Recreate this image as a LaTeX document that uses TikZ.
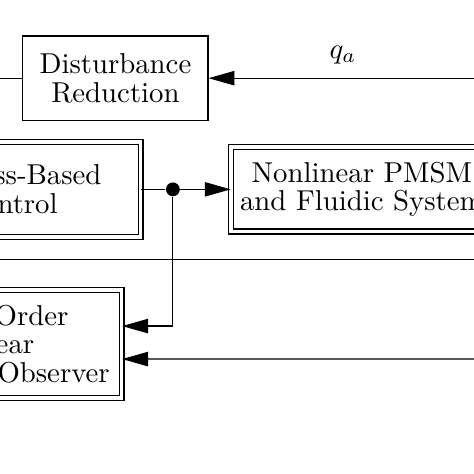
\documentclass[tikz,border=0pt]{standalone}
\usepackage{tikz}
\usetikzlibrary{arrows.meta}
\usetikzlibrary{positioning}

\begin{document}
\begin{tikzpicture}
	\useasboundingbox (0,0) rectangle (5.79,5.79);
	\clip (0,0) rectangle (5.79,5.79);

	\begin{scope}[every node/.style={draw, align=center, inner sep=0pt, font=\fontsize{10}{10}\selectfont}]
		\node[minimum width=2.26cm, minimum height=1.03cm] (dr) at (1.41,4.835) {Disturbance\\Reduction};
		\node[double, double distance=1.3pt, minimum width=3.19cm, minimum height=1.16cm] (pbc) at (0.122,3.477) {Lossless-Based\\Control};
		\node[double, double distance=1.3pt, minimum width=3.19cm, minimum height=1.03cm] (plant) at (4.42,3.477) {Nonlinear PMSM\\and Fluidic System};
		\node[double, double distance=1.3pt, minimum width=3.63cm, minimum height=1.325cm] (obs) at (-0.33,1.587) {Reduced-Order\\Nonlinear\\Disturbance Observer};
	\end{scope}

	\node[circle, fill, inner sep=0pt, minimum size=4.8pt] (dot) at (2.112,3.477) {};
	\node (qa) at (4.19,5.116) {$q_a$};

	\coordinate (qin) at (5.79,4.835);
	\coordinate (drout) at (0,4.835);
	\coordinate (fbl) at (0,2.625);
	\coordinate (fbr) at (5.79,2.625);
	\coordinate (yin) at (5.79,1.404);

	\begin{scope}[>={Triangle[length=9pt,width=5pt]},
	              every edge/.style={draw=black}]
		\path (qin) edge[->] (dr);
		\path (dr) edge (drout);
		\path (pbc) edge (dot);
		\path (dot) edge[->] (plant);
		\path (fbl) edge (fbr);
		\draw[->] (dot) |- ([yshift=0.22cm]obs.east);
		\draw[->] (yin) -- ([yshift=-0.183cm]obs.east);
	\end{scope}
\end{tikzpicture}
\end{document}
